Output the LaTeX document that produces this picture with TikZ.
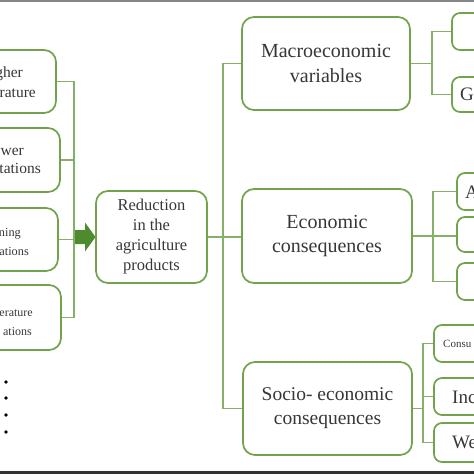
\documentclass[tikz,border=0pt]{standalone}
\usepackage{fontspec}
\setmainfont{Liberation Serif}

\definecolor{boxgreen}{RGB}{112,163,76}
\definecolor{linegreen}{RGB}{132,176,104}
\definecolor{arrowgreen}{RGB}{78,138,46}
\definecolor{txtgray}{RGB}{55,55,55}

\begin{document}
\begin{tikzpicture}[x=1pt, y=-1pt,
    box/.style={draw=boxgreen, line width=1.7pt, rounded corners=12pt, inner sep=0pt, text=txtgray, align=center},
    small/.style={box, rounded corners=8pt},
    link/.style={draw=linegreen, line width=1.1pt},
    frag/.style={text=txtgray, inner sep=0pt, anchor=base east},
    fragr/.style={frag, anchor=base west}]

    \useasboundingbox (0,0) rectangle (474,474);
    \clip (0,0) rectangle (474,474);

    % causes, cut at the left edge
    \node (hot) [box, minimum width=116, minimum height=63] at (-2,81.5) {};
    \node (dry) [box, minimum width=120, minimum height=64] at (0,160) {};
    \node (rain) [box, minimum width=118, minimum height=63] at (-1,239.5) {};
    \node (temp) [box, minimum width=121, minimum height=65] at (0.5,317.5) {};
    \node[frag, font=\fontsize{15.5}{18}\selectfont] at (23,77) {gher};
    \node[frag, font=\fontsize{15.5}{18}\selectfont] at (36,97) {rature};
    \node[frag, font=\fontsize{15.5}{18}\selectfont] at (24,155) {wer};
    \node[frag, font=\fontsize{15.5}{18}\selectfont] at (41,173) {tations};
    \node[frag, font=\fontsize{12.3}{15}\selectfont] at (21,236) {ning};
    \node[frag, font=\fontsize{12.3}{15}\selectfont] at (29,255) {ations};
    \node[frag, font=\fontsize{12}{15}\selectfont] at (33,316) {erature};
    \node[frag, font=\fontsize{12}{15}\selectfont] at (32,335) {ations};
    \foreach \y in {382,398,415,432}
        \fill[black] (6,\y) circle (1.9);

    \coordinate (lbus) at (74,0);
    \draw[link] (hot.east) -| (temp.east -| lbus) -- (temp.east);
    \draw[link] (dry.east) -- (dry.east -| lbus);
    \draw[link] (rain.east) -- (rain.east -| lbus);
    % block arrow
    \fill[arrowgreen] (75,230) -- (85,230) -- (85,222.5) -- (95.5,237) -- (85,251.5) -- (85,244) -- (75,244) -- cycle;

    % centre
    \node (red) [box, minimum width=111, minimum height=92, font=\fontsize{16.5}{20}\selectfont] at (151.5,237)
        {Reduction\\in the\\agriculture\\products};

    % consequences
    \node (mac) [box, minimum width=168, minimum height=93, font=\fontsize{20}{25}\selectfont] at (326,63.5)
        {Macroeconomic\\variables};
    \node (eco) [box, minimum width=170, minimum height=94, font=\fontsize{20}{24}\selectfont] at (327,236)
        {Economic\\consequences};
    \node (soc) [box, minimum width=169, minimum height=93, font=\fontsize{19.5}{24}\selectfont] at (327.5,408.5)
        {Socio- economic\\consequences};

    \coordinate (rbus) at (223,0);
    \draw[link] (mac.west) -| (soc.west -| rbus) -- (soc.west);
    \draw[link] (red.east) -- (red.east -| eco.west);

    % sub-items, cut at the right edge
    \node (m1) [small, minimum width=68, minimum height=37] at (486,31.5) {};
    \node (m2) [small, minimum width=68, minimum height=35] at (486,94.5) {};
    \node (e1) [small, minimum width=64, minimum height=37] at (489,191.5) {};
    \node (e2) [small, minimum width=64, minimum height=35] at (489,234.5) {};
    \node (e3) [small, minimum width=64, minimum height=37] at (489,281.5) {};
    \node (s1) [small, minimum width=86, minimum height=37] at (477,343.5) {};
    \node (s2) [small, minimum width=86, minimum height=37] at (477,396.5) {};
    \node (s3) [small, minimum width=86, minimum height=39] at (477,442.5) {};
    \node[fragr, font=\fontsize{19}{22}\selectfont] at (460,100) {G};
    \node[fragr, font=\fontsize{19}{22}\selectfont] at (465,198) {A};
    \node[fragr, font=\fontsize{11}{13}\selectfont] at (443,347) {Consu};
    \node[fragr, font=\fontsize{19}{22}\selectfont] at (452,403) {Inc};
    \node[fragr, font=\fontsize{19}{22}\selectfont] at (452,448) {We};

    \coordinate (mbus) at (432,0);
    \coordinate (ebus) at (433,0);
    \coordinate (sbus) at (423,0);
    \draw[link] (mac.east) -- (mac.east -| mbus);
    \draw[link] (m1.west) -| (m2.west -| mbus) -- (m2.west);
    \draw[link] (eco.east) -- (eco.east -| e2.west);
    \draw[link] (e1.west) -| (e3.west -| ebus) -- (e3.west);
    \draw[link] (soc.east) -- (soc.east -| sbus);
    \draw[link] (s1.west) -| (s3.west -| sbus) -- (s3.west);
    \draw[link] (s2.west) -- (s2.west -| sbus);

    % frame bars
    \fill[gray!95] (0,0) rectangle (474,2);
    \fill[black!80] (0,470.5) rectangle (474,474);

\end{tikzpicture}
\end{document}
